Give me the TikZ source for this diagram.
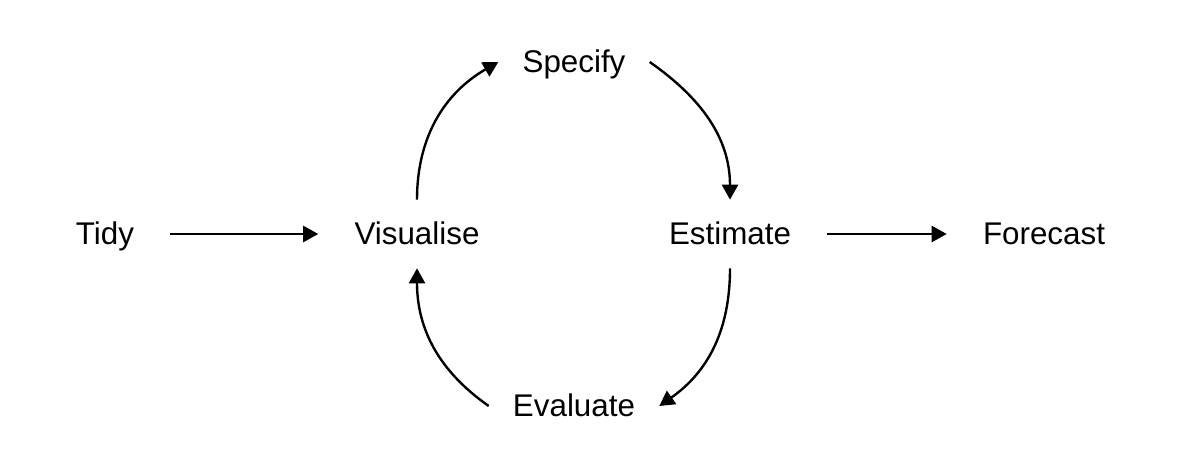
\documentclass[tikz,border=0pt]{standalone}
\usepackage{fontspec}
\setmainfont{Liberation Sans}
\usepackage{tikz}
\usetikzlibrary{arrows.meta}

\tikzset{
    stage/.style={inner xsep=0.9cm, inner ysep=0.375cm,
        text height=0.75cm, text depth=0.2cm,
        font=\fontsize{22.3}{27}\selectfont},
    turn/.style={stage, inner xsep=0.6cm},
    flow/.style={-{Triangle[length=0.375cm,width=0.4cm]}, line width=1.7pt}
}

\begin{document}
\begin{tikzpicture}[x=0.025cm, y=0.025cm]
    \useasboundingbox (0,0) rectangle (1200,458);
    \node[stage] (tidy) at (105,224) {Tidy};
    \node[stage] (vis) at (417,224) {Visualise};
    \node[turn] (spec) at (574,396) {Specify};
    \node[stage] (est) at (730,224) {Estimate};
    \node[turn] (eval) at (574,52) {Evaluate};
    \node[stage] (fore) at (1044,224) {Forecast};
    % straight steps
    \draw[flow] (tidy.east) -- (vis.west);
    \draw[flow] (est.east) -- (fore.west);
    % the modelling loop
    \draw[flow] (vis.north) to[out=90, in=210] (spec.west);
    \draw[flow] (spec.east) to[out=-35, in=90] (est.north);
    \draw[flow] (est.south) to[out=-90, in=35] (eval.east);
    \draw[flow] (eval.west) to[out=145, in=-90] (vis.south);
\end{tikzpicture}
\end{document}
